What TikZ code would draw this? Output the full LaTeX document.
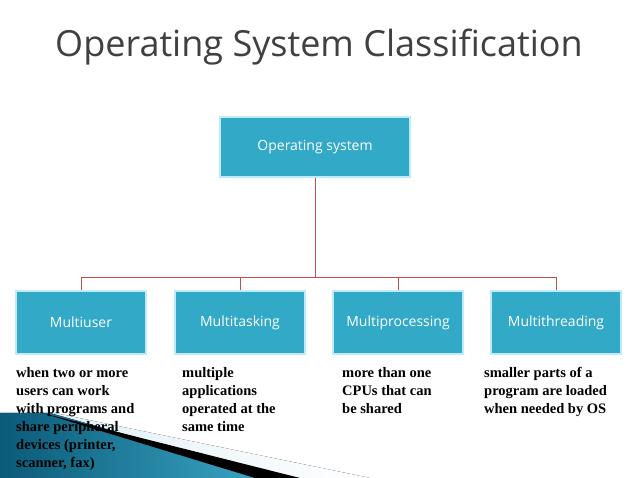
\documentclass[tikz,border=0pt]{standalone}
\usepackage{fontspec}
\setmainfont{Liberation Serif}
\newfontfamily\titlefont{Open Sans}
\newfontfamily\boxfont{Open Sans}
\begin{document}
\begin{tikzpicture}[x=1pt,y=-1pt,
  ostbox/.style={draw=cyan!25!white,line width=1.5pt,fill={rgb,255:red,49;green,169;blue,199},text=white,font=\boxfont\fontsize{14}{16}\selectfont,inner sep=0pt},
  link/.style={draw={rgb,255:red,192;green,80;blue,77},line width=0.8pt},
  desc/.style={anchor=north west,align=left,font=\bfseries\fontsize{14.5}{18}\selectfont,inner sep=0pt}]
\useasboundingbox (0,0) rectangle (638,478);
\fill[white] (0,0) rectangle (638,478);
% decoration
\fill[left color={rgb,255:red,220;green,238;blue,245},right color=white] (55,413) -- (370,478) -- (0,478) -- cycle;
\fill[left color={rgb,255:red,10;green,90;blue,120},right color={rgb,255:red,60;green,170;blue,200}] (0,413) -- (50,413) -- (280,478) -- (0,478) -- cycle;
\fill[black] (42,413) -- (300,478) -- (255,478) -- cycle;
\node[font=\titlefont\fontsize{36}{40}\selectfont,text={rgb,255:red,64;green,64;blue,64},anchor=base] (title) at (319,57) {Operating System Classification};
\node[ostbox,minimum width=190,minimum height=60] (os) at (315,147) {Operating system};
\foreach \n/\x/\t in {mu/81/Multiuser,mt/240/Multitasking,mp/398/Multiprocessing,mth/556/Multithreading}{
  \node[ostbox,minimum width=130,minimum height=63] (\n) at (\x,322.5) {\t};
}
\coordinate (j) at (315,277);
\draw[link] (os.south) -- (j);
\draw[link] (mu.north) |- (mth.north |- j) -- (mth.north);
\draw[link] (mt.north) -- (mt.north |- j);
\draw[link] (mp.north) -- (mp.north |- j);
\node[desc] (d1) at (16,367) {when two or more\\users can work\\with programs and\\share peripheral\\devices (printer,\\scanner, fax)};
\node[desc] (d2) at (182,367) {multiple\\applications\\operated at the\\same time};
\node[desc] (d3) at (342,367) {more than one\\CPUs that can\\be shared};
\node[desc] (d4) at (484,367) {smaller parts of a\\program are loaded\\when needed by OS};
\end{tikzpicture}
\end{document}
